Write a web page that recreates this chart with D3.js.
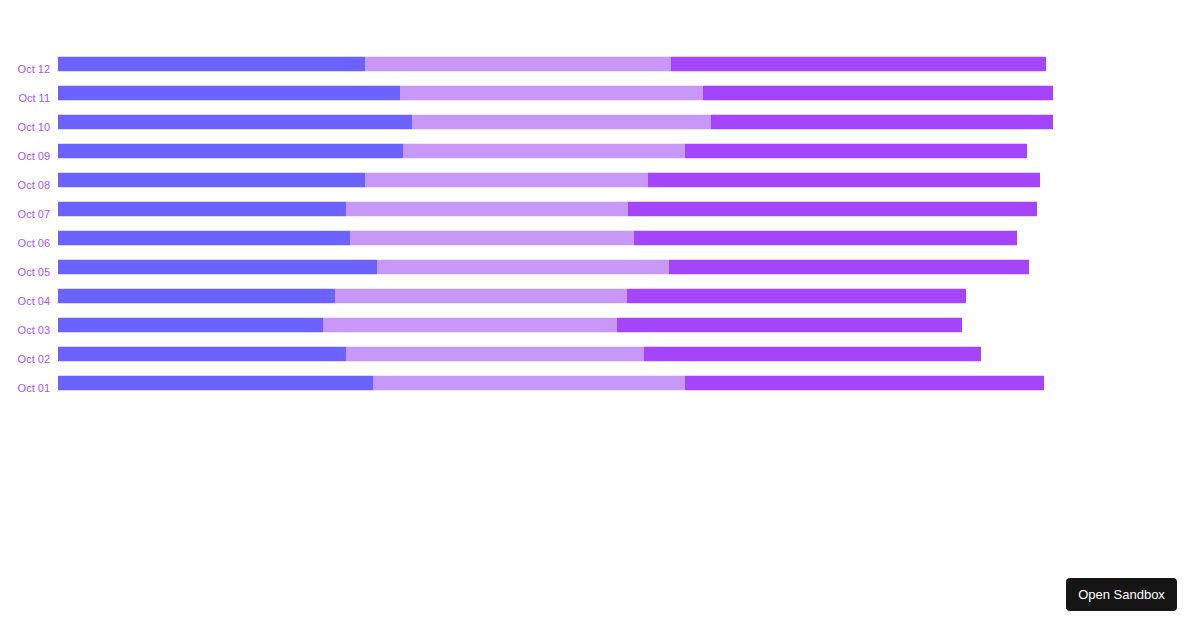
<!DOCTYPE html>
<html>
<head>
<meta charset="utf-8">
<script src="https://cdn.jsdelivr.net/npm/d3@7"></script>
<style>
  html, body { margin: 0; padding: 0; background: #fff; }
  body { width: 1200px; height: 630px; overflow: hidden; position: relative; font-family: "Liberation Sans", Arial, sans-serif; }
  #btn {
    position: absolute; left: 1066px; top: 578px; width: 111px; height: 33px;
    background: #151515; color: #fff; border-radius: 4px; font-size: 13px;
    line-height: 33px; text-align: center; font-family: "Liberation Sans", Arial, sans-serif;
  }
</style>
</head>
<body>
<div id="chart"></div>
<div id="btn">Open Sandbox</div>
<script>
var days = ["Oct 01", "Oct 02", "Oct 03", "Oct 04", "Oct 05", "Oct 06",
            "Oct 07", "Oct 08", "Oct 09", "Oct 10", "Oct 11", "Oct 12"];
var seriesA = [315, 288, 265, 277, 319, 292, 288, 307, 345, 354, 342, 307];
var seriesB = [312, 298, 294, 292, 292, 284, 282, 283, 282, 299, 303, 306];
var seriesC = [359, 337, 345, 339, 360, 383, 409, 392, 342, 342, 350, 375];
var colors = ["#6c63ff", "#c898f9", "#a445fc"];

var w = 1200, h = 630;

// rows stacked from the three series
var rows = days.map(function(d, i) {
  return { day: d, a: seriesA[i], b: seriesB[i], c: seriesC[i] };
});
var stacked = d3.stack().keys(["a", "b", "c"])(rows);

var maxTotal = d3.max(rows, function(d) { return d.a + d.b + d.c; });

var x = d3.scaleLinear().domain([0, maxTotal]).range([58, 1053]);
var y = d3.scaleBand().domain(days.slice().reverse()).range([49.5, 397.5]).paddingInner(0.5).paddingOuter(0.25);

var svg = d3.select("#chart").append("svg")
  .attr("width", w)
  .attr("height", h);

svg.selectAll("g.series")
  .data(stacked)
  .enter()
  .append("g")
  .attr("class", "series")
  .attr("fill", function(d, i) { return colors[i]; })
  .selectAll("rect")
  .data(function(d) { return d; })
  .enter()
  .append("rect")
  .attr("x", function(d) { return x(d[0]); })
  .attr("y", function(d) { return y(d.data.day); })
  .attr("width", function(d) { return x(d[1]) - x(d[0]); })
  .attr("height", y.bandwidth());

svg.selectAll("text.day")
  .data(days)
  .enter()
  .append("text")
  .attr("class", "day")
  .text(function(d) { return d; })
  .attr("text-anchor", "end")
  .attr("x", 50)
  .attr("y", function(d) { return y(d) + y.bandwidth() / 2 + 9; })
  .attr("font-family", "Liberation Sans, Arial, sans-serif")
  .attr("font-size", "11px")
  .attr("fill", "#a855f7");
</script>
</body>
</html>
